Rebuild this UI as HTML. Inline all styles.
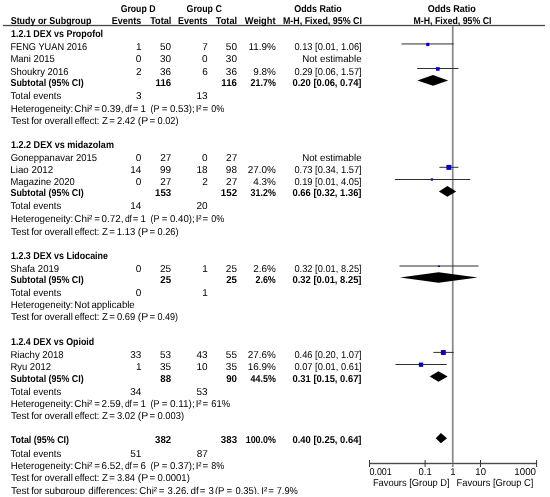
<!DOCTYPE html>
<html><head><meta charset="utf-8"><style>
html,body{margin:0;padding:0;background:#fff;}
#c{position:relative;width:550px;height:497px;overflow:hidden;background:#fff;}
.t{position:absolute;font-family:'Liberation Sans',Arial,sans-serif;font-size:10.0px;line-height:12px;white-space:nowrap;text-rendering:geometricPrecision;transform-origin:0 0;color:#000;-webkit-text-stroke:0px #000;}
.b{font-weight:bold;}
svg{position:absolute;left:0;top:0;}
</style></head><body><div id="c">
<svg width="550" height="497" viewBox="0 0 550 497">
<rect x="3.00" y="24.00" width="542.00" height="1.00" fill="#e6e6e6"/>
<rect x="3.00" y="26.00" width="542.00" height="1.00" fill="#e2e2e2"/>
<rect x="3.00" y="25.00" width="542.00" height="1.00" fill="#474747"/>
<rect x="369.00" y="462.00" width="168.00" height="1.00" fill="#d8d8d8"/>
<rect x="369.00" y="464.00" width="168.00" height="1.00" fill="#dcdcdc"/>
<rect x="452.00" y="26.00" width="1.00" height="441.00" fill="#888888"/>
<rect x="453.00" y="26.00" width="1.00" height="441.00" fill="#b8b8b8"/>
<rect x="451.00" y="26.00" width="1.00" height="441.00" fill="#f0f0f0"/>
<rect x="369.00" y="463.00" width="168.00" height="1.00" fill="#4a4a4a"/>
<line x1="369.50" y1="460.00" x2="369.50" y2="467.00" stroke="#333" stroke-width="1"/>
<line x1="425.10" y1="460.00" x2="425.10" y2="467.00" stroke="#333" stroke-width="1"/>
<line x1="480.50" y1="460.00" x2="480.50" y2="467.00" stroke="#333" stroke-width="1"/>
<line x1="536.60" y1="460.00" x2="536.60" y2="467.00" stroke="#333" stroke-width="1"/>
<line x1="401.50" y1="43.95" x2="453.70" y2="43.95" stroke="#2e2e2e" stroke-width="1"/>
<line x1="417.20" y1="68.50" x2="458.40" y2="68.50" stroke="#2e2e2e" stroke-width="1"/>
<line x1="439.40" y1="167.30" x2="458.40" y2="167.30" stroke="#2e2e2e" stroke-width="1"/>
<line x1="394.90" y1="179.50" x2="470.20" y2="179.50" stroke="#2e2e2e" stroke-width="1"/>
<line x1="399.50" y1="266.00" x2="478.50" y2="266.00" stroke="#2e2e2e" stroke-width="1"/>
<line x1="433.30" y1="352.40" x2="453.70" y2="352.40" stroke="#2e2e2e" stroke-width="1"/>
<line x1="395.50" y1="364.50" x2="446.70" y2="364.50" stroke="#2e2e2e" stroke-width="1"/>
<rect x="426.20" y="42.85" width="3.20" height="3.20" fill="#0800c8"/>
<rect x="436.05" y="67.15" width="3.60" height="3.60" fill="#0800c8"/>
<rect x="446.40" y="164.90" width="5.00" height="5.00" fill="#0800c8"/>
<rect x="430.75" y="178.35" width="2.30" height="2.30" fill="#0800c8"/>
<rect x="437.80" y="265.60" width="2.20" height="1.40" fill="#0800c8"/>
<rect x="440.90" y="350.05" width="4.90" height="4.90" fill="#0800c8"/>
<rect x="418.85" y="362.55" width="4.30" height="4.30" fill="#0800c8"/>
<polygon points="417.40,80.40 433.00,75.05 448.20,80.40 433.00,85.75" fill="#000"/>
<polygon points="438.90,191.40 447.40,186.10 456.20,191.40 447.40,196.70" fill="#000"/>
<polygon points="400.00,277.60 438.60,272.35 477.70,277.60 438.60,282.85" fill="#000"/>
<polygon points="429.70,376.50 438.45,371.20 447.60,376.50 438.45,381.80" fill="#000"/>
<polygon points="435.70,438.15 440.90,433.10 447.00,438.15 440.90,443.20" fill="#000"/>
</svg>
<div class="t b" style="left:120px;top:4px;transform:translateX(0.67px) scaleX(0.8692)">Group D</div>
<div class="t b" style="left:186px;top:4px;transform:translateX(0.56px) scaleX(0.8795)">Group C</div>
<div class="t b" style="left:294px;top:4px;transform:translateX(0.26px) scaleX(0.8895)">Odds Ratio</div>
<div class="t b" style="left:427px;top:4px;transform:translateX(0.75px) scaleX(0.9010)">Odds Ratio</div>
<div class="t b" style="left:10px;top:16px;transform:translateX(0.68px) scaleX(0.8914)">Study or Subgroup</div>
<div class="t b" style="left:111px;top:16px;transform:translateX(0.72px) scaleX(0.9008)">Events</div>
<div class="t b" style="left:150px;top:16px;transform:translateX(0.20px) scaleX(0.9156)">Total</div>
<div class="t b" style="left:178px;top:16px;transform:translateX(0.03px) scaleX(0.8945)">Events</div>
<div class="t b" style="left:215px;top:16px;transform:translateX(0.80px) scaleX(0.9200)">Total</div>
<div class="t b" style="left:244px;top:16px;transform:translateX(0.80px) scaleX(0.9273)">Weight</div>
<div class="t b" style="left:282px;top:16px;transform:translateX(0.93px) scaleX(0.8880)">M-H, Fixed, 95% CI</div>
<div class="t b" style="left:413px;top:16px;transform:translateX(0.54px) scaleX(0.8766)">M-H, Fixed, 95% CI</div>
<div class="t b" style="left:11px;top:29px;transform:translateX(0.03px) scaleX(0.8902)">1.2.1 DEX vs Propofol</div>
<div class="t" style="left:10px;top:42px;transform:translateX(0.41px) scaleX(0.9232)">FENG YUAN 2016</div>
<div class="t" style="left:135px;top:42px;transform:translateX(0.90px) scaleX(1.0000)">1</div>
<div class="t" style="left:160px;top:42px;transform:translateX(0.05px) scaleX(1.0000)">50</div>
<div class="t" style="left:202px;top:42px;transform:translateX(0.30px) scaleX(1.0000)">7</div>
<div class="t" style="left:225px;top:42px;transform:translateX(0.85px) scaleX(1.0000)">50</div>
<div class="t" style="left:248px;top:42px;transform:translateX(0.52px) scaleX(0.9900)">11.9%</div>
<div class="t" style="left:294px;top:42px;transform:translateX(0.44px) scaleX(0.9296)">0.13 [0.01, 1.06]</div>
<div class="t" style="left:10px;top:54px;transform:translateX(0.39px) scaleX(0.9495)">Mani 2015</div>
<div class="t" style="left:135px;top:54px;transform:translateX(0.65px) scaleX(1.0000)">0</div>
<div class="t" style="left:160px;top:54px;transform:translateX(0.05px) scaleX(1.0000)">30</div>
<div class="t" style="left:202px;top:54px;transform:translateX(0.05px) scaleX(1.0000)">0</div>
<div class="t" style="left:225px;top:54px;transform:translateX(0.85px) scaleX(1.0000)">30</div>
<div class="t" style="left:302px;top:54px;transform:translateX(0.17px) scaleX(0.9717)">Not estimable</div>
<div class="t" style="left:10px;top:67px;transform:translateX(0.23px) scaleX(0.9449)">Shoukry 2016</div>
<div class="t" style="left:135px;top:67px;transform:translateX(0.90px) scaleX(1.0000)">2</div>
<div class="t" style="left:160px;top:67px;transform:translateX(0.05px) scaleX(1.0000)">36</div>
<div class="t" style="left:202px;top:67px;transform:translateX(0.30px) scaleX(1.0000)">6</div>
<div class="t" style="left:225px;top:67px;transform:translateX(0.85px) scaleX(1.0000)">36</div>
<div class="t" style="left:253px;top:67px;transform:translateX(0.22px) scaleX(0.9900)">9.8%</div>
<div class="t" style="left:294px;top:67px;transform:translateX(0.44px) scaleX(0.9296)">0.29 [0.06, 1.57]</div>
<div class="t b" style="left:10px;top:78px;transform:translateX(0.48px) scaleX(0.8908)">Subtotal (95% CI)</div>
<div class="t b" style="left:155px;top:78px;transform:translateX(0.52px) scaleX(0.9700)">116</div>
<div class="t b" style="left:221px;top:78px;transform:translateX(0.32px) scaleX(0.9700)">116</div>
<div class="t b" style="left:250px;top:78px;transform:translateX(0.58px) scaleX(0.8900)">21.7%</div>
<div class="t b" style="left:292px;top:78px;transform:translateX(0.53px) scaleX(0.9398)">0.20 [0.06, 0.74]</div>
<div class="t" style="left:10px;top:91px;transform:translateX(0.46px) scaleX(0.9498)">Total events</div>
<div class="t" style="left:135px;top:91px;transform:translateX(0.90px) scaleX(1.0000)">3</div>
<div class="t" style="left:196px;top:91px;transform:translateX(0.55px) scaleX(1.0000)">13</div>
<div class="t b" style="left:11px;top:140px;transform:translateX(0.02px) scaleX(0.9031)">1.2.2 DEX vs midazolam</div>
<div class="t" style="left:10px;top:153px;transform:translateX(0.63px) scaleX(0.9474)">Goneppanavar 2015</div>
<div class="t" style="left:135px;top:153px;transform:translateX(0.65px) scaleX(1.0000)">0</div>
<div class="t" style="left:160px;top:153px;transform:translateX(0.30px) scaleX(1.0000)">27</div>
<div class="t" style="left:202px;top:153px;transform:translateX(0.05px) scaleX(1.0000)">0</div>
<div class="t" style="left:226px;top:153px;transform:translateX(0.10px) scaleX(1.0000)">27</div>
<div class="t" style="left:302px;top:153px;transform:translateX(0.17px) scaleX(0.9717)">Not estimable</div>
<div class="t" style="left:10px;top:165px;transform:translateX(0.37px) scaleX(0.9731)">Liao 2012</div>
<div class="t" style="left:130px;top:165px;transform:translateX(0.15px) scaleX(1.0000)">14</div>
<div class="t" style="left:160px;top:165px;transform:translateX(0.05px) scaleX(1.0000)">99</div>
<div class="t" style="left:196px;top:165px;transform:translateX(0.55px) scaleX(1.0000)">18</div>
<div class="t" style="left:225px;top:165px;transform:translateX(0.85px) scaleX(1.0000)">98</div>
<div class="t" style="left:247px;top:165px;transform:translateX(0.78px) scaleX(0.9900)">27.0%</div>
<div class="t" style="left:294px;top:165px;transform:translateX(0.44px) scaleX(0.9296)">0.73 [0.34, 1.57]</div>
<div class="t" style="left:10px;top:177px;transform:translateX(0.40px) scaleX(0.9398)">Magazine 2020</div>
<div class="t" style="left:135px;top:177px;transform:translateX(0.65px) scaleX(1.0000)">0</div>
<div class="t" style="left:160px;top:177px;transform:translateX(0.30px) scaleX(1.0000)">27</div>
<div class="t" style="left:202px;top:177px;transform:translateX(0.30px) scaleX(1.0000)">2</div>
<div class="t" style="left:226px;top:177px;transform:translateX(0.10px) scaleX(1.0000)">27</div>
<div class="t" style="left:253px;top:177px;transform:translateX(0.22px) scaleX(0.9900)">4.3%</div>
<div class="t" style="left:294px;top:177px;transform:translateX(0.44px) scaleX(0.9296)">0.19 [0.01, 4.05]</div>
<div class="t b" style="left:10px;top:188px;transform:translateX(0.48px) scaleX(0.8896)">Subtotal (95% CI)</div>
<div class="t b" style="left:155px;top:188px;transform:translateX(0.04px) scaleX(0.9700)">153</div>
<div class="t b" style="left:220px;top:188px;transform:translateX(0.84px) scaleX(0.9700)">152</div>
<div class="t b" style="left:250px;top:188px;transform:translateX(0.58px) scaleX(0.8900)">31.2%</div>
<div class="t b" style="left:292px;top:188px;transform:translateX(0.53px) scaleX(0.9398)">0.66 [0.32, 1.36]</div>
<div class="t" style="left:10px;top:201px;transform:translateX(0.46px) scaleX(0.9498)">Total events</div>
<div class="t" style="left:130px;top:201px;transform:translateX(0.15px) scaleX(1.0000)">14</div>
<div class="t" style="left:196px;top:201px;transform:translateX(0.55px) scaleX(1.0000)">20</div>
<div class="t b" style="left:11px;top:251px;transform:translateX(0.03px) scaleX(0.8900)">1.2.3 DEX vs Lidocaine</div>
<div class="t" style="left:10px;top:264px;transform:translateX(0.22px) scaleX(0.9552)">Shafa 2019</div>
<div class="t" style="left:135px;top:264px;transform:translateX(0.65px) scaleX(1.0000)">0</div>
<div class="t" style="left:160px;top:264px;transform:translateX(0.05px) scaleX(1.0000)">25</div>
<div class="t" style="left:202px;top:264px;transform:translateX(0.30px) scaleX(1.0000)">1</div>
<div class="t" style="left:225px;top:264px;transform:translateX(0.85px) scaleX(1.0000)">25</div>
<div class="t" style="left:253px;top:264px;transform:translateX(0.22px) scaleX(0.9900)">2.6%</div>
<div class="t" style="left:294px;top:264px;transform:translateX(0.44px) scaleX(0.9296)">0.32 [0.01, 8.25]</div>
<div class="t b" style="left:10px;top:275px;transform:translateX(0.48px) scaleX(0.8908)">Subtotal (95% CI)</div>
<div class="t b" style="left:160px;top:275px;transform:translateX(0.37px) scaleX(0.9700)">25</div>
<div class="t b" style="left:226px;top:275px;transform:translateX(0.17px) scaleX(0.9700)">25</div>
<div class="t b" style="left:255px;top:275px;transform:translateX(0.47px) scaleX(0.8900)">2.6%</div>
<div class="t b" style="left:292px;top:275px;transform:translateX(0.53px) scaleX(0.9398)">0.32 [0.01, 8.25]</div>
<div class="t" style="left:10px;top:288px;transform:translateX(0.46px) scaleX(0.9498)">Total events</div>
<div class="t" style="left:135px;top:288px;transform:translateX(0.65px) scaleX(1.0000)">0</div>
<div class="t" style="left:202px;top:288px;transform:translateX(0.30px) scaleX(1.0000)">1</div>
<div class="t b" style="left:11px;top:337px;transform:translateX(0.04px) scaleX(0.8854)">1.2.4 DEX vs Opioid</div>
<div class="t" style="left:10px;top:350px;transform:translateX(0.38px) scaleX(0.9585)">Riachy 2018</div>
<div class="t" style="left:130px;top:350px;transform:translateX(0.15px) scaleX(1.0000)">33</div>
<div class="t" style="left:160px;top:350px;transform:translateX(0.05px) scaleX(1.0000)">53</div>
<div class="t" style="left:196px;top:350px;transform:translateX(0.55px) scaleX(1.0000)">43</div>
<div class="t" style="left:225px;top:350px;transform:translateX(0.85px) scaleX(1.0000)">55</div>
<div class="t" style="left:247px;top:350px;transform:translateX(0.78px) scaleX(0.9900)">27.6%</div>
<div class="t" style="left:294px;top:350px;transform:translateX(0.44px) scaleX(0.9296)">0.46 [0.20, 1.07]</div>
<div class="t" style="left:10px;top:362px;transform:translateX(0.39px) scaleX(0.9470)">Ryu 2012</div>
<div class="t" style="left:135px;top:362px;transform:translateX(0.90px) scaleX(1.0000)">1</div>
<div class="t" style="left:160px;top:362px;transform:translateX(0.05px) scaleX(1.0000)">35</div>
<div class="t" style="left:196px;top:362px;transform:translateX(0.55px) scaleX(1.0000)">10</div>
<div class="t" style="left:225px;top:362px;transform:translateX(0.85px) scaleX(1.0000)">35</div>
<div class="t" style="left:247px;top:362px;transform:translateX(0.78px) scaleX(0.9900)">16.9%</div>
<div class="t" style="left:294px;top:362px;transform:translateX(0.44px) scaleX(0.9296)">0.07 [0.01, 0.61]</div>
<div class="t b" style="left:10px;top:374px;transform:translateX(0.48px) scaleX(0.8908)">Subtotal (95% CI)</div>
<div class="t b" style="left:160px;top:374px;transform:translateX(0.37px) scaleX(0.9700)">88</div>
<div class="t b" style="left:226px;top:374px;transform:translateX(0.17px) scaleX(0.9700)">90</div>
<div class="t b" style="left:250px;top:374px;transform:translateX(0.58px) scaleX(0.8900)">44.5%</div>
<div class="t b" style="left:292px;top:374px;transform:translateX(0.53px) scaleX(0.9398)">0.31 [0.15, 0.67]</div>
<div class="t" style="left:10px;top:387px;transform:translateX(0.46px) scaleX(0.9498)">Total events</div>
<div class="t" style="left:130px;top:387px;transform:translateX(0.15px) scaleX(1.0000)">34</div>
<div class="t" style="left:196px;top:387px;transform:translateX(0.55px) scaleX(1.0000)">53</div>
<div class="t b" style="left:10px;top:435px;transform:translateX(0.70px) scaleX(0.8923)">Total (95% CI)</div>
<div class="t b" style="left:155px;top:435px;transform:translateX(0.04px) scaleX(0.9700)">382</div>
<div class="t b" style="left:220px;top:435px;transform:translateX(0.84px) scaleX(0.9700)">383</div>
<div class="t b" style="left:245px;top:435px;transform:translateX(0.69px) scaleX(0.8900)">100.0%</div>
<div class="t b" style="left:292px;top:435px;transform:translateX(0.53px) scaleX(0.9398)">0.40 [0.25, 0.64]</div>
<div class="t" style="left:10px;top:449px;transform:translateX(0.46px) scaleX(0.9498)">Total events</div>
<div class="t" style="left:130px;top:449px;transform:translateX(0.15px) scaleX(1.0000)">51</div>
<div class="t" style="left:196px;top:449px;transform:translateX(0.80px) scaleX(1.0000)">87</div>
<div class="t" style="left:369px;top:467px;transform:translateX(0.45px) scaleX(0.8917)">0.001</div>
<div class="t" style="left:418px;top:467px;transform:translateX(0.52px) scaleX(0.9500)">0.1</div>
<div class="t" style="left:450px;top:467px;transform:translateX(0.27px) scaleX(0.9500)">1</div>
<div class="t" style="left:475px;top:467px;transform:translateX(0.37px) scaleX(0.9500)">10</div>
<div class="t" style="left:514px;top:467px;transform:translateX(0.27px) scaleX(0.9762)">1000</div>
<div class="t" style="left:372px;top:478px;transform:translateX(0.90px) scaleX(0.9337)">Favours [Group D]</div>
<div class="t" style="left:456px;top:478px;transform:translateX(0.60px) scaleX(0.9337)">Favours [Group C]</div>
<div class="t" style="left:10px;top:104px;transform:translateX(0.68px) scaleX(0.9628)">Heterogeneity:</div>
<div class="t" style="left:74px;top:104px;transform:translateX(0.31px) scaleX(0.9859)">Chi²</div>
<div class="t" style="left:94px;top:104px;transform:translateX(0.16px) scaleX(0.9700)">=</div>
<div class="t" style="left:101px;top:104px;transform:translateX(0.61px) scaleX(0.9831)">0.39,</div>
<div class="t" style="left:124px;top:104px;transform:translateX(0.88px) scaleX(0.8500)">df</div>
<div class="t" style="left:132px;top:104px;transform:translateX(0.86px) scaleX(0.9700)">=</div>
<div class="t" style="left:140px;top:104px;transform:translateX(0.41px) scaleX(0.9700)">1</div>
<div class="t" style="left:150px;top:104px;transform:translateX(0.43px) scaleX(0.8914)">(P</div>
<div class="t" style="left:161px;top:104px;transform:translateX(0.76px) scaleX(0.9700)">=</div>
<div class="t" style="left:169px;top:104px;transform:translateX(0.92px) scaleX(0.9691)">0.53);</div>
<div class="t" style="left:195px;top:104px;transform:translateX(0.66px) scaleX(0.9700)">I²</div>
<div class="t" style="left:202px;top:104px;transform:translateX(0.56px) scaleX(0.9700)">=</div>
<div class="t" style="left:211px;top:104px;transform:translateX(0.25px) scaleX(0.9037)">0%</div>
<div class="t" style="left:10px;top:116px;transform:translateX(0.95px) scaleX(1.0000)">Test</div>
<div class="t" style="left:31px;top:116px;transform:translateX(0.16px) scaleX(0.9511)">for</div>
<div class="t" style="left:44px;top:116px;transform:translateX(0.42px) scaleX(0.9664)">overall</div>
<div class="t" style="left:74px;top:116px;transform:translateX(0.65px) scaleX(0.9098)">effect:</div>
<div class="t" style="left:101px;top:116px;transform:translateX(0.89px) scaleX(0.9700)">Z</div>
<div class="t" style="left:109px;top:116px;transform:translateX(0.36px) scaleX(0.9700)">=</div>
<div class="t" style="left:116px;top:116px;transform:translateX(0.93px) scaleX(0.9405)">2.42</div>
<div class="t" style="left:137px;top:116px;transform:translateX(0.87px) scaleX(1.0500)">(P</div>
<div class="t" style="left:149px;top:116px;transform:translateX(0.51px) scaleX(0.9700)">=</div>
<div class="t" style="left:157px;top:116px;transform:translateX(0.54px) scaleX(0.9195)">0.02)</div>
<div class="t" style="left:10px;top:214px;transform:translateX(0.68px) scaleX(0.9628)">Heterogeneity:</div>
<div class="t" style="left:74px;top:214px;transform:translateX(0.31px) scaleX(0.9859)">Chi²</div>
<div class="t" style="left:94px;top:214px;transform:translateX(0.16px) scaleX(0.9700)">=</div>
<div class="t" style="left:101px;top:214px;transform:translateX(0.61px) scaleX(0.9831)">0.72,</div>
<div class="t" style="left:124px;top:214px;transform:translateX(0.88px) scaleX(0.8500)">df</div>
<div class="t" style="left:132px;top:214px;transform:translateX(0.86px) scaleX(0.9700)">=</div>
<div class="t" style="left:140px;top:214px;transform:translateX(0.41px) scaleX(0.9700)">1</div>
<div class="t" style="left:150px;top:214px;transform:translateX(0.43px) scaleX(0.8914)">(P</div>
<div class="t" style="left:161px;top:214px;transform:translateX(0.76px) scaleX(0.9700)">=</div>
<div class="t" style="left:169px;top:214px;transform:translateX(0.92px) scaleX(0.9691)">0.40);</div>
<div class="t" style="left:195px;top:214px;transform:translateX(0.66px) scaleX(0.9700)">I²</div>
<div class="t" style="left:202px;top:214px;transform:translateX(0.56px) scaleX(0.9700)">=</div>
<div class="t" style="left:211px;top:214px;transform:translateX(0.25px) scaleX(0.9037)">0%</div>
<div class="t" style="left:10px;top:227px;transform:translateX(0.95px) scaleX(1.0000)">Test</div>
<div class="t" style="left:31px;top:227px;transform:translateX(0.16px) scaleX(0.9511)">for</div>
<div class="t" style="left:44px;top:227px;transform:translateX(0.42px) scaleX(0.9664)">overall</div>
<div class="t" style="left:74px;top:227px;transform:translateX(0.65px) scaleX(0.9098)">effect:</div>
<div class="t" style="left:101px;top:227px;transform:translateX(0.89px) scaleX(0.9700)">Z</div>
<div class="t" style="left:109px;top:227px;transform:translateX(0.36px) scaleX(0.9700)">=</div>
<div class="t" style="left:116px;top:227px;transform:translateX(0.68px) scaleX(0.9534)">1.13</div>
<div class="t" style="left:137px;top:227px;transform:translateX(0.87px) scaleX(1.0500)">(P</div>
<div class="t" style="left:149px;top:227px;transform:translateX(0.51px) scaleX(0.9700)">=</div>
<div class="t" style="left:157px;top:227px;transform:translateX(0.54px) scaleX(0.9195)">0.26)</div>
<div class="t" style="left:10px;top:300px;transform:translateX(0.68px) scaleX(0.9628)">Heterogeneity:</div>
<div class="t" style="left:74px;top:300px;transform:translateX(0.26px) scaleX(0.9898)">Not</div>
<div class="t" style="left:91px;top:300px;transform:translateX(0.42px) scaleX(0.9614)">applicable</div>
<div class="t" style="left:10px;top:312px;transform:translateX(0.95px) scaleX(1.0000)">Test</div>
<div class="t" style="left:31px;top:312px;transform:translateX(0.16px) scaleX(0.9511)">for</div>
<div class="t" style="left:44px;top:312px;transform:translateX(0.42px) scaleX(0.9664)">overall</div>
<div class="t" style="left:74px;top:312px;transform:translateX(0.65px) scaleX(0.9098)">effect:</div>
<div class="t" style="left:101px;top:312px;transform:translateX(0.89px) scaleX(0.9700)">Z</div>
<div class="t" style="left:109px;top:312px;transform:translateX(0.36px) scaleX(0.9700)">=</div>
<div class="t" style="left:116px;top:312px;transform:translateX(0.93px) scaleX(0.9405)">0.69</div>
<div class="t" style="left:137px;top:312px;transform:translateX(0.87px) scaleX(1.0500)">(P</div>
<div class="t" style="left:149px;top:312px;transform:translateX(0.51px) scaleX(0.9700)">=</div>
<div class="t" style="left:157px;top:312px;transform:translateX(0.55px) scaleX(0.9011)">0.49)</div>
<div class="t" style="left:10px;top:399px;transform:translateX(0.68px) scaleX(0.9628)">Heterogeneity:</div>
<div class="t" style="left:74px;top:399px;transform:translateX(0.31px) scaleX(0.9859)">Chi²</div>
<div class="t" style="left:94px;top:399px;transform:translateX(0.16px) scaleX(0.9700)">=</div>
<div class="t" style="left:101px;top:399px;transform:translateX(0.61px) scaleX(0.9831)">2.59,</div>
<div class="t" style="left:124px;top:399px;transform:translateX(0.88px) scaleX(0.8500)">df</div>
<div class="t" style="left:132px;top:399px;transform:translateX(0.86px) scaleX(0.9700)">=</div>
<div class="t" style="left:140px;top:399px;transform:translateX(0.41px) scaleX(0.9700)">1</div>
<div class="t" style="left:150px;top:399px;transform:translateX(0.43px) scaleX(0.8914)">(P</div>
<div class="t" style="left:161px;top:399px;transform:translateX(0.76px) scaleX(0.9700)">=</div>
<div class="t" style="left:169px;top:399px;transform:translateX(0.90px) scaleX(1.0000)">0.11);</div>
<div class="t" style="left:195px;top:399px;transform:translateX(0.66px) scaleX(0.9700)">I²</div>
<div class="t" style="left:202px;top:399px;transform:translateX(0.56px) scaleX(0.9700)">=</div>
<div class="t" style="left:211px;top:399px;transform:translateX(0.23px) scaleX(0.9403)">61%</div>
<div class="t" style="left:10px;top:411px;transform:translateX(0.95px) scaleX(1.0000)">Test</div>
<div class="t" style="left:31px;top:411px;transform:translateX(0.16px) scaleX(0.9511)">for</div>
<div class="t" style="left:44px;top:411px;transform:translateX(0.42px) scaleX(0.9664)">overall</div>
<div class="t" style="left:74px;top:411px;transform:translateX(0.65px) scaleX(0.9098)">effect:</div>
<div class="t" style="left:101px;top:411px;transform:translateX(0.89px) scaleX(0.9700)">Z</div>
<div class="t" style="left:109px;top:411px;transform:translateX(0.36px) scaleX(0.9700)">=</div>
<div class="t" style="left:116px;top:411px;transform:translateX(0.93px) scaleX(0.9405)">3.02</div>
<div class="t" style="left:137px;top:411px;transform:translateX(0.87px) scaleX(1.0500)">(P</div>
<div class="t" style="left:149px;top:411px;transform:translateX(0.51px) scaleX(0.9700)">=</div>
<div class="t" style="left:157px;top:411px;transform:translateX(0.53px) scaleX(0.9394)">0.003)</div>
<div class="t" style="left:10px;top:461px;transform:translateX(0.68px) scaleX(0.9628)">Heterogeneity:</div>
<div class="t" style="left:74px;top:461px;transform:translateX(0.31px) scaleX(0.9859)">Chi²</div>
<div class="t" style="left:94px;top:461px;transform:translateX(0.16px) scaleX(0.9700)">=</div>
<div class="t" style="left:101px;top:461px;transform:translateX(0.61px) scaleX(0.9831)">6.52,</div>
<div class="t" style="left:124px;top:461px;transform:translateX(0.88px) scaleX(0.8500)">df</div>
<div class="t" style="left:132px;top:461px;transform:translateX(0.86px) scaleX(0.9700)">=</div>
<div class="t" style="left:140px;top:461px;transform:translateX(0.53px) scaleX(0.9700)">6</div>
<div class="t" style="left:150px;top:461px;transform:translateX(0.43px) scaleX(0.8914)">(P</div>
<div class="t" style="left:161px;top:461px;transform:translateX(0.76px) scaleX(0.9700)">=</div>
<div class="t" style="left:169px;top:461px;transform:translateX(0.92px) scaleX(0.9691)">0.37);</div>
<div class="t" style="left:195px;top:461px;transform:translateX(0.66px) scaleX(0.9700)">I²</div>
<div class="t" style="left:202px;top:461px;transform:translateX(0.56px) scaleX(0.9700)">=</div>
<div class="t" style="left:211px;top:461px;transform:translateX(0.25px) scaleX(0.8963)">8%</div>
<div class="t" style="left:10px;top:473px;transform:translateX(0.95px) scaleX(1.0000)">Test</div>
<div class="t" style="left:31px;top:473px;transform:translateX(0.16px) scaleX(0.9511)">for</div>
<div class="t" style="left:44px;top:473px;transform:translateX(0.42px) scaleX(0.9664)">overall</div>
<div class="t" style="left:74px;top:473px;transform:translateX(0.65px) scaleX(0.9098)">effect:</div>
<div class="t" style="left:101px;top:473px;transform:translateX(0.89px) scaleX(0.9700)">Z</div>
<div class="t" style="left:109px;top:473px;transform:translateX(0.36px) scaleX(0.9700)">=</div>
<div class="t" style="left:116px;top:473px;transform:translateX(0.94px) scaleX(0.9280)">3.84</div>
<div class="t" style="left:137px;top:473px;transform:translateX(0.87px) scaleX(1.0500)">(P</div>
<div class="t" style="left:149px;top:473px;transform:translateX(0.51px) scaleX(0.9700)">=</div>
<div class="t" style="left:157px;top:473px;transform:translateX(0.52px) scaleX(0.9527)">0.0001)</div>
<div class="t" style="left:10px;top:486px;transform:translateX(0.95px) scaleX(1.0000)">Test</div>
<div class="t" style="left:31px;top:486px;transform:translateX(0.16px) scaleX(0.9511)">for</div>
<div class="t" style="left:44px;top:486px;transform:translateX(0.66px) scaleX(0.9707)">subgroup</div>
<div class="t" style="left:88px;top:486px;transform:translateX(0.32px) scaleX(0.9540)">differences:</div>
<div class="t" style="left:139px;top:486px;transform:translateX(0.32px) scaleX(0.9690)">Chi²</div>
<div class="t" style="left:158px;top:486px;transform:translateX(0.86px) scaleX(0.9700)">=</div>
<div class="t" style="left:167px;top:486px;transform:translateX(0.62px) scaleX(0.9542)">3.26,</div>
<div class="t" style="left:190px;top:486px;transform:translateX(0.51px) scaleX(0.9806)">df</div>
<div class="t" style="left:199px;top:486px;transform:translateX(0.66px) scaleX(0.9700)">=</div>
<div class="t" style="left:208px;top:486px;transform:translateX(0.43px) scaleX(0.9700)">3</div>
<div class="t" style="left:214px;top:486px;transform:translateX(0.88px) scaleX(0.9600)">(P</div>
<div class="t" style="left:226px;top:486px;transform:translateX(0.46px) scaleX(0.9700)">=</div>
<div class="t" style="left:235px;top:486px;transform:translateX(0.43px) scaleX(0.9402)">0.35),</div>
<div class="t" style="left:261px;top:486px;transform:translateX(0.25px) scaleX(0.9700)">I²</div>
<div class="t" style="left:268px;top:486px;transform:translateX(0.16px) scaleX(0.9700)">=</div>
<div class="t" style="left:276px;top:486px;transform:translateX(0.63px) scaleX(0.9318)">7.9%</div>
<div style="position:absolute;left:0;top:494px;width:550px;height:3px;background:#fff"></div>
</div></body></html>
